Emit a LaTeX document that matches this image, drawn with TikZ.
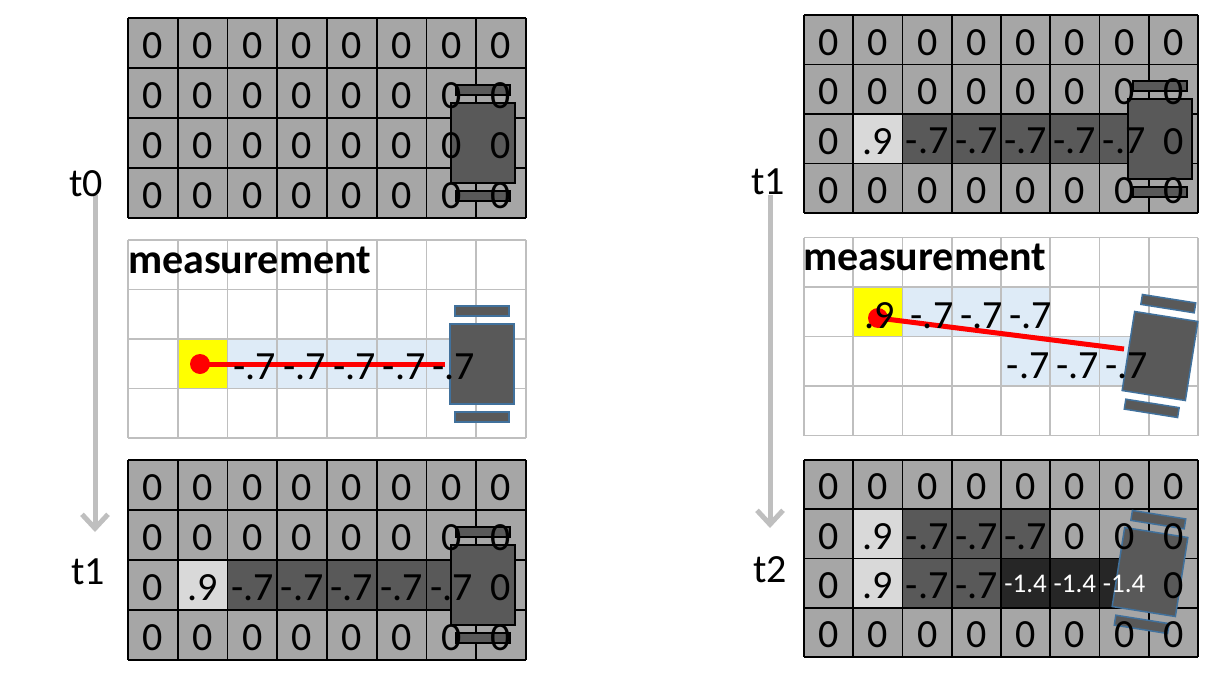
\documentclass[tikz,border=0pt]{standalone}
\usepackage{fontspec}
\setmainfont{Carlito}
\usetikzlibrary{arrows.meta}
\definecolor{cg}{HTML}{A6A6A6}
\definecolor{cl}{HTML}{D9D9D9}
\definecolor{cd}{HTML}{595959}
\definecolor{cdd}{HTML}{262626}
\definecolor{cb}{HTML}{DEEBF7}
\definecolor{cy}{HTML}{FFFF00}
\definecolor{cline}{HTML}{BFBFBF}
\definecolor{cblue}{HTML}{41719C}
\tikzset{num/.style={font=\fontsize{40}{40}\selectfont,inner sep=0pt},
 wnum/.style={font=\fontsize{27}{27}\selectfont,inner sep=0pt,text=white},
 tarrow/.style={cline,line width=5pt,-{Straight Barb[length=14pt,width=26pt,line width=5pt]}}}
\newcommand\gridcells[5]{% X Y w h linecolor
 \foreach \i in {0,...,8} \draw[#5,line width=1.8pt] (#1+\i*#3,#2)--(#1+\i*#3,#2+4*#4);
 \foreach \j in {0,...,4} \draw[#5,line width=1.8pt] (#1,#2+\j*#4)--(#1+8*#3,#2+\j*#4);}
\newcommand\rowtext[6]{% X Y w h row list
 \foreach \t [count=\c from 0] in {#6} \node[num] at ({#1+(\c+0.5)*#3},{#2+(#5+0.55)*#4}) {\t};}
\newcommand\car[4]{\begin{scope}[shift={(#1,#2)},rotate=#3]
 \filldraw[fill=cd,draw=#4,line width=1.5pt] (-32,-40) rectangle (32,40);
 \filldraw[fill=cd,draw=#4,line width=1.5pt] (-27,-58) rectangle (27,-48);
 \filldraw[fill=cd,draw=#4,line width=1.5pt] (-27,48) rectangle (27,58);
\end{scope}}
\begin{document}
\begin{tikzpicture}[x=1pt,y=-1pt]
\useasboundingbox (0,0) rectangle (1230,690);
% ===== LEFT =====
\fill[cg] (128,18) rectangle ++(398,200);
\gridcells{128}{18}{49.75}{50}{black}
\car{483}{143}{0}{black}
\foreach \r in {0,...,3}{\rowtext{128}{18}{49.75}{50}{\r}{0,0,0,0,0,0,0,0}}
% measurement
\fill[cy] (177.75,339) rectangle ++(49.75,49.5);
\fill[cb] (227.5,339) rectangle ++(248.75,49.5);
\gridcells{128}{240}{49.75}{49.5}{cline}
\node[anchor=base west,inner sep=0pt,font=\fontsize{42}{42}\selectfont\bfseries] (m1) at (128,273) {measurement};
\draw[red,line width=5pt] (200,364) -- (445,364);
\fill[red] (200,364) circle (10);
\car{482}{364}{0}{cblue}
\foreach \c in {2,...,6}{\node[num] at ({128+(\c+0.55)*49.75},367) {-.7};}
% bottom grid
\fill[cg] (128,460) rectangle ++(398,200);
\fill[cl] (177.75,560) rectangle ++(49.75,50);
\fill[cd] (227.5,560) rectangle ++(248.75,50);
\gridcells{128}{460}{49.75}{50}{black}
\car{483}{585}{0}{black}
\rowtext{128}{460}{49.75}{50}{0}{0,0,0,0,0,0,0,0}
\rowtext{128}{460}{49.75}{50}{1}{0,0,0,0,0,0,0,0}
\rowtext{128}{460}{49.75}{50}{2}{0,.9,-.7,-.7,-.7,-.7,-.7,0}
\rowtext{128}{460}{49.75}{50}{3}{0,0,0,0,0,0,0,0}
\draw[tarrow] (95,195) -- (95,532);
\node[num] (t0) at (86,184) {t0};
\node[num] (t1a) at (88,572) {t1};
% ===== RIGHT =====
\fill[cg] (804,15) rectangle ++(394,198);
\fill[cl] (853.25,114) rectangle ++(49.25,49.5);
\fill[cd] (902.5,114) rectangle ++(246.25,49.5);
\gridcells{804}{15}{49.25}{49.5}{black}
\car{1160}{139}{0}{black}
\rowtext{804}{15}{49.25}{49.5}{0}{0,0,0,0,0,0,0,0}
\rowtext{804}{15}{49.25}{49.5}{1}{0,0,0,0,0,0,0,0}
\rowtext{804}{15}{49.25}{49.5}{2}{0,.9,-.7,-.7,-.7,-.7,-.7,0}
\rowtext{804}{15}{49.25}{49.5}{3}{0,0,0,0,0,0,0,0}
% measurement right
\fill[cy] (853.25,287) rectangle ++(49.25,49.5);
\fill[cb] (902.5,287) rectangle ++(147.75,49.5);
\fill[cb] (1001,336.5) rectangle ++(147.75,49.5);
\gridcells{804}{237.5}{49.25}{49.5}{cline}
\node[anchor=base west,inner sep=0pt,font=\fontsize{42}{42}\selectfont\bfseries] (m2) at (803,270) {measurement};
\draw[red,line width=5pt] (878,318) -- (1124,349);
\fill[red] (878,318) circle (10);
\car{1160}{356}{-9}{cblue}
\node[num] at (880,316) {.9};
\foreach \c in {2,3,4}{\node[num] at ({804+(\c+0.6)*49.25},316) {-.7};}
\foreach \c in {4,5,6}{\node[num] at ({804+(\c+0.55)*49.25},366) {-.7};}
% bottom right
\fill[cg] (804,460) rectangle ++(394,197);
\fill[cl] (853.25,509.25) rectangle ++(49.25,98.5);
\fill[cd] (902.5,509.25) rectangle ++(147.75,49.25);
\fill[cd] (902.5,558.5) rectangle ++(98.5,49.25);
\fill[cdd] (1001,558.5) rectangle ++(147.75,49.25);
\gridcells{804}{460}{49.25}{49.25}{black}
\car{1150}{572}{-9}{cblue}
\rowtext{804}{460}{49.25}{49.25}{0}{0,0,0,0,0,0,0,0}
\rowtext{804}{460}{49.25}{49.25}{1}{0,.9,-.7,-.7,-.7,0,0,0}
\rowtext{804}{460}{49.25}{49.25}{2}{0,.9,-.7,-.7}
\node[num] at ({804+7.5*49.25},{460+2.55*49.25}) {0};
\foreach \c in {4,5,6}{\node[wnum] at ({804+(\c+0.5)*49.25},584) {-1.4};}
\rowtext{804}{460}{49.25}{49.25}{3}{0,0,0,0,0,0,0,0}
\draw[tarrow] (770,195) -- (770,528);
\node[num] (t1b) at (768,182) {t1};
\node[num] (t2) at (770,570) {t2};
\end{tikzpicture}
\end{document}
